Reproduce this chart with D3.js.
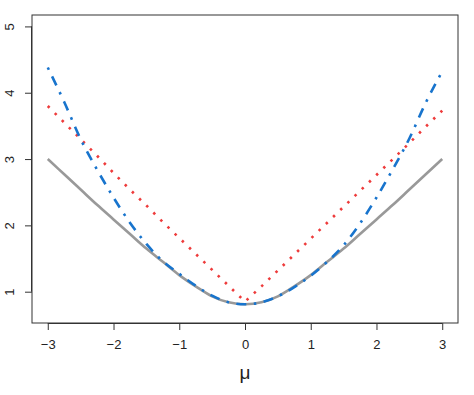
<!DOCTYPE html>
<html><head><meta charset="utf-8">
<script src="https://cdn.jsdelivr.net/npm/d3@7"></script>
<style>body{margin:0;background:#fff}svg{display:block}text{font-family:"Liberation Sans",Arial,sans-serif}</style>
</head><body>
<svg id="c" width="474" height="395"></svg>
<script>
const mu = [-3,-2.75,-2.5,-2.25,-2,-1.75,-1.5,-1.25,-1,-0.75,-0.5,-0.25,0,0.25,0.5,0.75,1,1.25,1.5,1.75,2,2.25,2.5,2.75,3];
const graySeries = [3.00,2.77,2.54,2.31,2.09,1.87,1.65,1.45,1.25,1.08,0.93,0.84,0.81,0.84,0.93,1.08,1.25,1.45,1.65,1.87,2.09,2.31,2.54,2.77,3.00];
const blueSeries = [4.38,3.86,3.30,2.84,2.42,2.04,1.72,1.46,1.27,1.09,0.94,0.84,0.81,0.84,0.93,1.07,1.24,1.45,1.70,2.03,2.42,2.85,3.31,3.85,4.32];
const redSeries  = [3.80,3.55,3.30,3.05,2.79,2.54,2.30,2.05,1.81,1.57,1.33,1.09,0.85,1.08,1.32,1.56,1.80,2.04,2.28,2.52,2.76,3.00,3.24,3.49,3.73];
const xTicks = [-3,-2,-1,0,1,2,3];
const yTicks = [1,2,3,4,5];
const xLabel = "μ";

const svg = d3.select("#c");
const L = 32, R = 458, T = 15, B = 323;
const x = d3.scaleLinear().domain([-3.24, 3.24]).range([L, R]);
const y = d3.scaleLinear().domain([0.528, 5.172]).range([B, T]);

svg.append("defs").append("clipPath").attr("id","clp").append("rect")
  .attr("x",L).attr("y",T).attr("width",R-L).attr("height",B-T);
const g = svg.append("g").attr("clip-path","url(#clp)");

function draw(vals, color, dash, curve){
  const line = d3.line().x((d,i)=>x(mu[i])).y(d=>y(d)).curve(curve);
  g.append("path").datum(vals).attr("d", line).attr("fill","none")
    .attr("stroke", color).attr("stroke-width", 2.6)
    .attr("stroke-dasharray", dash).attr("stroke-linecap","butt");
}
draw(graySeries, "#999999", null, d3.curveMonotoneX);
draw(redSeries, "#EE3B3B", "2.5,7.5", d3.curveLinear);
draw(blueSeries, "#1874CD", "2.5,7.5,10,7.5", d3.curveMonotoneX);

svg.append("rect").attr("x",L).attr("y",T).attr("width",R-L).attr("height",B-T)
  .attr("fill","none").attr("stroke","#333").attr("stroke-width",1);

const xa = svg.append("g").attr("transform",`translate(0,${B})`)
  .call(d3.axisBottom(x).tickValues(xTicks).tickSize(7).tickPadding(10)
    .tickFormat(d=>d<0?"\u2212"+Math.abs(d):d));
xa.select(".domain").attr("d",`M${x(-3)},0.5H${x(3)}`).attr("stroke","#333");
xa.selectAll(".tick line").attr("stroke","#333");
xa.selectAll("text").attr("font-size",13).attr("fill","#222").attr("font-family","Liberation Sans, Arial, sans-serif");

const ya = svg.append("g").attr("transform",`translate(${L},0)`)
  .call(d3.axisLeft(y).tickValues(yTicks).tickSize(7).tickFormat(d3.format("d")));
ya.select(".domain").attr("d",`M-0.5,${y(1)}V${y(5)}`).attr("stroke","#333");
ya.selectAll(".tick line").attr("stroke","#333");
ya.selectAll("text").attr("font-size",13).attr("fill","#222").attr("font-family","Liberation Sans, Arial, sans-serif")
  .attr("x",0).attr("dy",0).attr("text-anchor","middle")
  .attr("transform","translate(-18,0) rotate(-90)");

svg.append("text").attr("x",x(0)).attr("y",379).attr("text-anchor","middle")
  .attr("font-size",19).attr("fill","#222").text(xLabel);
</script>
</body></html>
